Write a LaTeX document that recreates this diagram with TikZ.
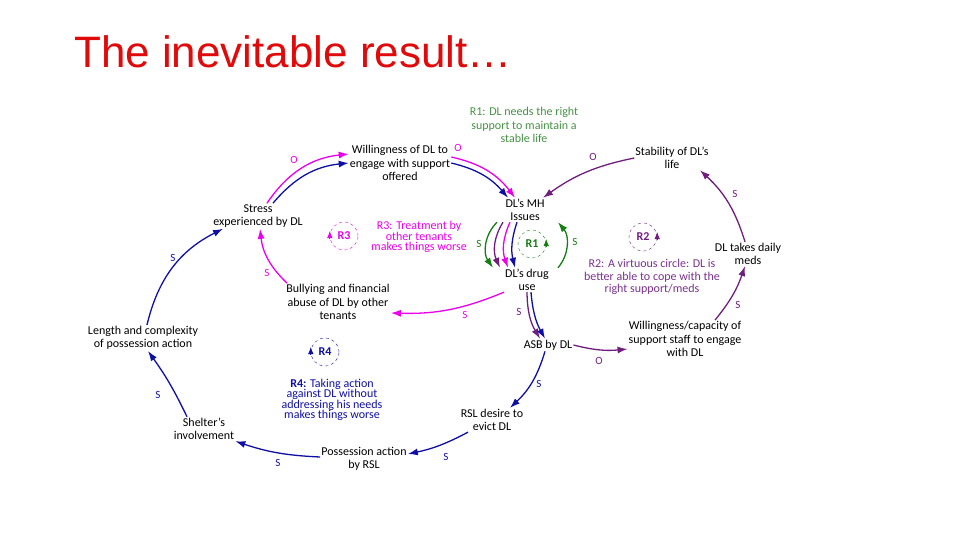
\documentclass[tikz,border=0pt]{standalone}
\usepackage{fontspec}
\setmainfont{Carlito}
\newfontfamily\titlefont{Liberation Sans}
\usetikzlibrary{arrows.meta}
\definecolor{titleRed}{RGB}{225,10,10}
\definecolor{cMag}{RGB}{235,0,235}
\definecolor{cBlue}{RGB}{15,15,165}
\definecolor{cGreen}{RGB}{20,125,20}
\definecolor{cPurple}{RGB}{112,30,125}
\definecolor{txtGreen}{RGB}{70,145,70}
\definecolor{txtPurple}{RGB}{120,50,140}
\tikzset{
  var/.style={font=\fontsize{12}{13.5}\selectfont,align=center,inner sep=1pt},
  pol/.style={font=\fontsize{11}{12}\selectfont,inner sep=1pt},
  rtxt/.style={font=\fontsize{12}{12.5}\selectfont,align=center,inner sep=1pt},
  rtight/.style={rtxt,font=\fontsize{12}{10.5}\selectfont},
  rsym/.style={circle,dashed,draw,minimum size=28pt,inner sep=0pt,
    font=\fontsize{12}{12}\selectfont\bfseries},
  arr/.style={-{Latex[length=10pt,width=7pt]},line width=1.3pt},
  rtip/.style={-{Latex[length=7pt,width=5.5pt]},line width=0.8pt},
}

\begin{document}
\begin{tikzpicture}[x=1pt,y=-1pt]
\useasboundingbox (0,0) rectangle (960,540);

% =====================================================================
%  TITLE
% =====================================================================
\node[anchor=base west,inner sep=0pt,text=titleRed,
  font=\titlefont\fontsize{44}{50}\selectfont] (title) at (74,68)
  {The inevitable result…};

% =====================================================================
%  VARIABLES
% =====================================================================
\node[var] (wil)     at (400,163) {Willingness of DL to\\engage with support\\offered};
\node[var] (stress)  at (258,216) {Stress\\experienced by DL};
\node[var] (stab)    at (672,158) {Stability of DL's\\life};
\node[var] (mh)      at (525,210) {DL's MH\\Issues};
\node[var] (drug)    at (527,280) {DL's drug\\use};
\node[var] (meds)    at (748,254) {DL takes daily\\meds};
\node[var] (staff)   at (685,339) {Willingness/capacity of\\support staff to engage\\with DL};
\node[var] (asb)     at (548,345) {ASB by DL};
\node[var] (rsl)     at (492,420) {RSL desire to\\evict DL};
\node[var] (poss)    at (364,459) {Possession action\\by RSL};
\node[var] (shelter) at (204,429) {Shelter's\\involvement};
\node[var] (length)  at (143,338) {Length and complexity\\of possession action};
\node[var] (bully)   at (338,302) {Bullying and financial\\abuse of DL by other\\tenants};

% =====================================================================
%  LOOP SYMBOLS + LOOP TEXTS
% =====================================================================
\node[rsym,draw=cGreen,text=cGreen]   (r1) at (532,244) {R1};
\node[rsym,draw=cPurple,text=cPurple] (r2) at (643,237) {R2};
\node[rsym,draw=cMag,text=cMag]       (r3) at (344,236) {R3};
\node[rsym,draw=cBlue,text=cBlue]     (r4) at (325,352) {R4};
\draw[rtip,cGreen]  ([yshift=-3pt]r1.east) -- ([yshift=5pt]r1.east);
\draw[rtip,cPurple] ([yshift=-3pt]r2.east) -- ([yshift=5pt]r2.east);
\draw[rtip,cMag]    ([yshift=-3pt]r3.west) -- ([yshift=5pt]r3.west);
\draw[rtip,cBlue]   ([yshift=-3pt]r4.west) -- ([yshift=5pt]r4.west);

\node[rtxt,text=txtGreen,font=\fontsize{12}{13.5}\selectfont] (r1txt) at (524,125)
  {R1: DL needs the right\\support to maintain a\\stable life};
\node[rtxt,text=txtPurple] (r2txt) at (652,277)
  {R2: A virtuous circle: DL is\\better able to cope with the\\right support/meds};
\node[rtight,text=cMag] (r3txt) at (419,237)
  {R3: Treatment by\\other tenants\\makes things worse};
\node[rtight,text=cBlue] (r4txt) at (332,400)
  {\textbf{R4:} Taking action\\against DL without\\addressing his needs\\makes things worse};

% =====================================================================
%  LINKS
% =====================================================================
% Stress -> Willingness -> MH (R3 magenta, R4 blue)
\draw[arr,cMag]  ([xshift=9pt]stress.north) to[bend left=25] ([yshift=9pt]wil.west);
\draw[arr,cBlue] ([xshift=15pt]stress.north) to[bend left=22] (wil.west);
\draw[arr,cMag]  ([yshift=6pt]wil.east) to[bend left=20] ([xshift=-10pt]mh.north);
\draw[arr,cBlue] (wil.east) to[bend left=18] ([xshift=-17pt]mh.north);

% Stability -> MH, R2 ring
\draw[arr,cPurple] (stab.west) to[bend right=12] ([xshift=18pt]mh.north);
\draw[arr,cPurple] ([xshift=-3pt]meds.north) to[bend right=15] ([xshift=28pt]stab.south);
\draw[arr,cPurple] ([xshift=30pt]staff.north) to[bend right=10] ([xshift=-3pt]meds.south);
\draw[arr,cPurple] (asb.east) to[bend right=10] ([yshift=-10pt]staff.west);

% MH -> drug use (one per loop), drug use -> MH
\draw[arr,cGreen]  ([xshift=-28pt]mh.south) to[bend right=40] ([xshift=-34pt]drug.north);
\draw[arr,cPurple] ([xshift=-22pt]mh.south) to[bend right=28] ([xshift=-27pt]drug.north);
\draw[arr,cMag]    ([xshift=-15pt]mh.south) to[bend right=22] ([xshift=-19pt]drug.north);
\draw[arr,cBlue]   ([xshift=-8pt]mh.south)  to[bend right=16] ([xshift=-12pt]drug.north);
\draw[arr,cGreen]  ([xshift=31pt]drug.north) to[bend right=40] ([xshift=33pt]mh.south);

% drug use -> ASB, drug use -> bullying -> stress
\draw[arr,cPurple] (drug.south) to[bend right=15] ([xshift=-8pt]asb.north);
\draw[arr,cBlue]   ([xshift=4pt]drug.south) to[bend right=12] ([xshift=-3pt]asb.north);
\draw[arr,cMag]    (drug.south west) to[bend left=12] ([yshift=-11pt]bully.east);
\draw[arr,cMag]    ([xshift=-51pt]bully.north) to[bend left=20] ([xshift=2pt]stress.south);

% R4 outer ring
\draw[arr,cBlue] ([xshift=-3pt]asb.south) to[bend left=15] ([xshift=18pt]rsl.north);
\draw[arr,cBlue] ([xshift=-24pt]rsl.south) to[bend left=8] ([yshift=5pt]poss.east);
\draw[arr,cBlue] ([yshift=2pt]poss.west) to[bend left=8] (shelter.south east);
\draw[arr,cBlue] ([xshift=-17pt]shelter.north) to[bend right=5] ([xshift=5pt]length.south);
\draw[arr,cBlue] ([xshift=4pt]length.north) to[bend left=25] ([xshift=-35pt]stress.south);

% =====================================================================
%  POLARITIES
% =====================================================================
\node[pol,text=cMag]    (p1)  at (294,160) {O};
\node[pol,text=cMag]    (p2)  at (458,148) {O};
\node[pol,text=cPurple] (p3)  at (593,157) {O};
\node[pol,text=cPurple] (p4)  at (735,194) {S};
\node[pol,text=cPurple] (p5)  at (738,305) {S};
\node[pol,text=cPurple] (p6)  at (599,361) {O};
\node[pol,text=cGreen]  (p7)  at (479,244) {S};
\node[pol,text=cGreen]  (p8)  at (575,242) {S};
\node[pol,text=cPurple] (p9)  at (519,312) {S};
\node[pol,text=cMag]    (p10) at (465,315) {S};
\node[pol,text=cMag]    (p11) at (267,273) {S};
\node[pol,text=cBlue]   (p12) at (539,384) {S};
\node[pol,text=cBlue]   (p13) at (446,457) {S};
\node[pol,text=cBlue]   (p14) at (278,463) {S};
\node[pol,text=cBlue]   (p15) at (158,395) {S};
\node[pol,text=cBlue]   (p16) at (173,258) {S};

\end{tikzpicture}
\end{document}
